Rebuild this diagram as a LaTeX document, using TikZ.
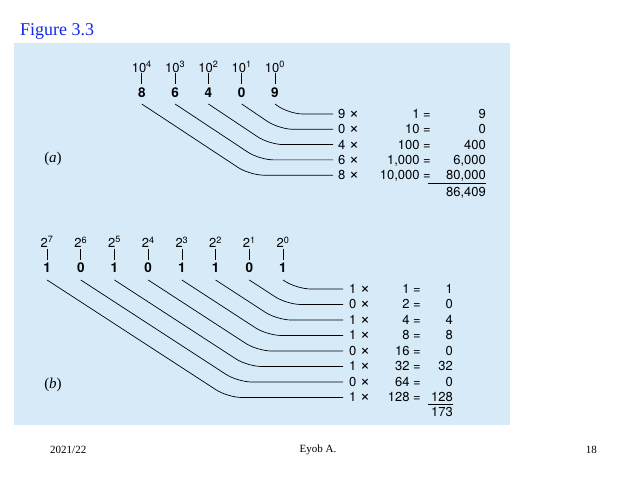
\documentclass[tikz,border=0pt]{standalone}
\usepackage{fontspec}
\setmainfont{Liberation Serif}
\setsansfont{TeX Gyre Heros}
\newcommand{\mytimes}{{\fontsize{17}{17}\selectfont×}}
\begin{document}
\begin{tikzpicture}[x=1pt,y=-1pt,
  num/.style={font=\sffamily\fontsize{13}{13}\selectfont,inner sep=0pt},
  dig/.style={font=\sffamily\bfseries\fontsize{13.5}{13.5}\selectfont,inner sep=0pt},
  lead/.style={line width=0.7pt,rounded corners=14pt},
  foot/.style={font=\fontsize{11}{11}\selectfont,inner sep=0pt}]
\useasboundingbox (0,0) rectangle (638,478);
\fill[white] (0,0) rectangle (638,478);
\fill[fill={rgb,255:red,214;green,234;blue,248}] (14,43) rectangle (510,425);
\node[anchor=west,text={rgb,255:red,20;green,40;blue,230},font=\fontsize{18}{18}\selectfont,inner sep=0pt] (title) at (20,31) {Figure 3.3};
\node[foot,anchor=west] (f1) at (50,450) {2021/22};
\node[foot] (f2) at (318,450) {Eyob A.};
\node[foot,anchor=east] (f3) at (597,450) {18};
% part a
\node[font=\fontsize{15}{15}\selectfont] (la) at (53,159) {(\textit{a})};
\foreach \i/\d/\v/\r in {0/9/1/9,1/0/10/0,2/4/100/400,3/6/{1,000}/{6,000},4/8/{10,000}/{80,000}}{
  \pgfmathsetmacro\xx{275-33.3*\i}
  \pgfmathsetmacro\yy{114+15.3*\i}
  \node[num] (pa\i) at (\xx,67) {10\textsuperscript{\i}};
  \node[dig] (da\i) at (\xx,93) {\d};
  \draw[line width=0.8pt] (\xx,73) -- (\xx,84);
  \coordinate (ea\i) at (333,\yy);
  \pgfmathsetmacro\cx{\xx+(\yy-105)/0.65}
  \draw[lead] (\xx,104) -- (\cx,\yy) -- (ea\i);
  \node[num,anchor=base west] (ma\i) at (338,\yy+4.5) {\d\ \mytimes};
  \node[num,anchor=base east] (va\i) at (431,\yy+4.5) {\v\ =};
  \node[num,anchor=base east] (ra\i) at (486,\yy+4.5) {\r};
}
\draw[line width=0.6pt] (428,183) -- (486,183);
\node[num,anchor=base east] (suma) at (486,197) {86,409};
% part b
\node[font=\fontsize{15}{15}\selectfont] (lb) at (53,385) {(\textit{b})};
\foreach \i/\d/\v in {0/1/1,1/0/2,2/1/4,3/1/8,4/0/16,5/1/32,6/0/64,7/1/128}{
  \pgfmathsetmacro\xx{283-33.7*\i}
  \pgfmathsetmacro\yy{289+15.5*\i}
  \pgfmathtruncatemacro\rr{\d*\v}
  \node[num] (pb\i) at (\xx,242) {2\textsuperscript{\i}};
  \node[dig] (db\i) at (\xx,268) {\d};
  \draw[line width=0.8pt] (\xx,249) -- (\xx,260);
  \coordinate (eb\i) at (343,\yy);
  \pgfmathsetmacro\cx{\xx+(\yy-280)/0.65}
  \draw[lead] (\xx,280) -- (\cx,\yy) -- (eb\i);
  \node[num,anchor=base west] (mb\i) at (349,\yy+4.5) {\d\ \mytimes};
  \node[num,anchor=base east] (vb\i) at (421,\yy+4.5) {\v\ =};
  \node[num,anchor=base east] (rb\i) at (453,\yy+4.5) {\rr};
}
\draw[line width=0.6pt] (428,404) -- (453,404);
\node[num,anchor=base east] (sumb) at (453,417) {173};
\end{tikzpicture}
\end{document}
